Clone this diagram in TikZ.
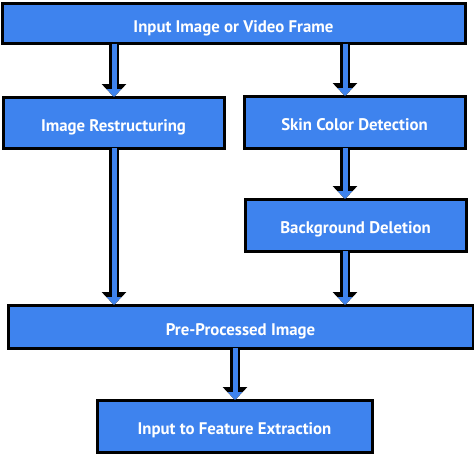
\documentclass[tikz,border=0pt]{standalone}
\usepackage{fontspec}
\setmainfont{PT Sans}
\usetikzlibrary{arrows.meta}

\definecolor{boxblue}{RGB}{62,131,238}

\newcommand{\unitscl}{1pt}
\newcommand{\px}[1]{#1*\unitscl}
\newcommand{\bx}{\node[stagebox]}

\tikzset{
    stagebox/.style={draw=black, line width=3pt, fill=boxblue, text=white,
        font=\bfseries\fontsize{16.8}{18}\selectfont, inner sep=0pt, outer sep=0pt,
        text height=\px{17}, text depth=0pt},
    flowarrow/.style={draw=boxblue, line width=5pt,
        -{Triangle[length=8pt, width=14pt]},
        preaction={draw=black, line width=10pt, -{Triangle[length=13pt, width=24pt]}}}
}

\begin{document}
\begin{tikzpicture}[x=\unitscl, y=-\unitscl]
            \useasboundingbox (0,0) rectangle (474,453);

            \bx[minimum width=\px{463}, minimum height=\px{40}] (frame) at (233.5, 23.5) {Input Image or Video Frame};
            \bx[minimum width=\px{221}, minimum height=\px{51}] (restr) at (113.5, 122.5) {Image Restructuring};
            \bx[minimum width=\px{221}, minimum height=\px{52}] (skin) at (354.5, 122) {Skin Color Detection};
            \bx[minimum width=\px{221}, minimum height=\px{52}] (bgdel) at (355.5, 225) {Background Deletion};
            \bx[minimum width=\px{465}, minimum height=\px{43}] (prep) at (240.5, 326.5) {Pre-Processed Image};
            \bx[minimum width=\px{275}, minimum height=\px{52}] (feat) at (234.5, 426) {Input to Feature Extraction};

            \draw[flowarrow] (frame.south -| 114,0) -- (restr.north -| 114,0);
            \draw[flowarrow] (frame.south -| 345,0) -- (skin.north -| 345,0);
            \draw[flowarrow] (skin.south -| 345,0) -- (bgdel.north -| 345,0);
            \draw[flowarrow] (restr.south -| 114,0) -- (prep.north -| 114,0);
            \draw[flowarrow] (bgdel.south -| 345,0) -- (prep.north -| 345,0);
            \draw[flowarrow] (prep.south -| 235,0) -- (feat.north -| 235,0);
        \end{tikzpicture}
\end{document}
